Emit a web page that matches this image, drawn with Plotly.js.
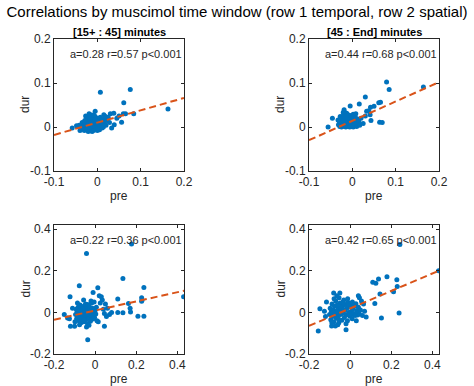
<!DOCTYPE html>
<html><head><meta charset="utf-8">
<script src="https://cdn.plot.ly/plotly-3.0.1.min.js"></script>
<style>html,body{margin:0;padding:0;background:#fff}#chart{width:474px;height:386px}</style>
</head><body><div id="chart"></div>
<script>
// ---- data ----
const figTitle = 'Correlations by muscimol time window (row 1 temporal, row 2 spatial)';
const panelTitles = ['[15+ : 45] minutes', '[45 : End] minutes', '', ''];
const statLabels = ['a=0.28 r=0.57 p<0.001', 'a=0.44 r=0.68 p<0.001', 'a=0.22 r=0.36 p<0.001', 'a=0.42 r=0.65 p<0.001'];
const slopes = [0.28, 0.44, 0.22, 0.42];
const intercepts = [0.010, 0.014, 0.009, 0.019];
const xLabel = 'pre';
const yLabel = 'dur';
const topTickVals = [-0.1, 0, 0.1, 0.2];
const topTickText = ['-0.1', '0', '0.1', '0.2'];
const botTickVals = [-0.2, 0, 0.2, 0.4];
const botTickText = ['-0.2', '0', '0.2', '0.4'];
const topRange = [-0.1, 0.2];
const botXRange = [-0.2, 0.432];
const botYRange = [-0.2, 0.42];

const pre1 = [-0.030,-0.028,-0.026,-0.025,-0.024,-0.022,-0.021,-0.020,-0.019,-0.018,-0.017,-0.016,-0.015,-0.014,-0.013,-0.012,-0.011,-0.010,-0.009,-0.008,-0.007,-0.006,-0.005,-0.004,-0.003,-0.002,-0.001,0.000,0.001,0.002,0.003,0.004,0.005,0.006,0.008,0.010,0.012,0.014,0.016,0.018,-0.033,-0.036,-0.027,-0.019,-0.010,-0.014,-0.023,-0.006,0.000,0.007,-0.017,-0.008,-0.003,-0.020,-0.029,-0.012,0.011,0.020,0.022,-0.035,
  0.007,0.076,0.061,0.163,0.030,0.038,0.065,0.084,0.056,0.039,-0.005,-0.058,-0.048,-0.042,0.025,0.045,0.028,0.050,0.033,-0.040,0.015,0.060,0.019];
const dur1 = [-0.008,0.002,0.010,-0.004,0.018,0.005,-0.010,0.012,0.000,0.022,0.007,-0.006,0.015,0.003,0.027,-0.002,0.009,0.019,-0.008,0.005,0.013,0.001,0.024,0.008,-0.004,0.016,0.004,0.011,-0.001,0.020,0.007,0.014,-0.006,0.003,0.010,0.017,0.006,0.000,0.012,0.021,0.004,-0.002,0.025,0.030,0.002,0.012,-0.001,0.017,-0.008,0.022,0.020,0.027,0.009,0.006,0.015,-0.010,-0.002,0.004,0.015,0.010,
  0.079,0.085,0.055,0.041,0.030,0.031,0.030,0.030,0.011,0.005,0.036,-0.002,0.003,0.004,0.022,0.020,0.010,0.025,-0.002,-0.008,0.028,0.030,0.024];

const pre2 = [-0.032,-0.030,-0.029,-0.027,-0.026,-0.025,-0.024,-0.023,-0.022,-0.021,-0.020,-0.019,-0.018,-0.017,-0.016,-0.015,-0.014,-0.013,-0.012,-0.011,-0.010,-0.009,-0.008,-0.007,-0.006,-0.005,-0.004,-0.003,-0.002,-0.001,0.000,0.001,0.002,0.003,0.004,0.005,0.007,0.009,0.011,0.013,-0.028,-0.021,-0.015,-0.010,-0.005,0.000,-0.018,-0.024,0.006,0.015,-0.012,-0.027,-0.008,-0.002,0.010,-0.033,-0.019,0.002,0.017,-0.006,
  0.079,0.085,0.164,0.030,0.061,0.065,0.050,0.042,0.038,0.016,-0.005,-0.019,-0.046,-0.056,0.043,0.063,0.069,0.041,0.030,0.020,0.025,0.033,0.008];
const dur2 = [0.005,0.012,0.001,0.018,0.007,0.000,0.022,0.010,0.003,0.015,0.027,0.006,0.001,0.013,0.020,0.004,0.009,0.031,0.002,0.016,0.007,0.024,0.001,0.011,0.018,0.004,0.009,0.026,0.002,0.014,0.006,0.020,0.000,0.010,0.016,0.003,0.012,0.005,0.019,0.008,0.024,0.033,0.000,0.028,0.013,0.001,0.010,0.015,0.024,0.013,0.020,0.003,0.006,0.021,0.001,0.016,0.035,0.029,0.004,0.000,
  0.102,0.085,0.091,0.068,0.055,0.056,0.047,0.045,0.037,0.052,0.048,0.039,0.020,0.000,0.015,0.011,0.010,0.028,0.025,0.020,0.008,0.036,0.030];

const pre3 = [-0.095,-0.092,-0.090,-0.088,-0.085,-0.083,-0.081,-0.079,-0.077,-0.075,-0.073,-0.071,-0.069,-0.067,-0.065,-0.063,-0.061,-0.059,-0.057,-0.055,-0.053,-0.051,-0.049,-0.047,-0.045,-0.043,-0.041,-0.039,-0.037,-0.035,-0.033,-0.031,-0.029,-0.027,-0.025,-0.023,-0.021,-0.019,-0.017,-0.015,-0.013,-0.011,-0.009,-0.007,-0.005,-0.003,0.000,0.003,0.006,0.009,-0.068,-0.062,-0.058,-0.052,-0.048,-0.044,-0.072,-0.066,-0.060,-0.054,-0.046,-0.040,-0.036,-0.086,-0.098,-0.030,-0.056,-0.076,-0.020,-0.042,
  -0.042,0.177,0.135,-0.077,0.013,0.237,0.430,-0.122,0.110,0.226,0.228,0.226,0.162,0.110,0.135,0.170,0.172,0.208,0.237,-0.036,0.045,-0.150,-0.120,-0.100,-0.134,0.020,-0.010,0.030,0.050,0.060,0.040,0.070,0.055,0.025,0.035,0.015,-0.110,-0.125,0.080,0.045];
const dur3 = [-0.010,0.015,-0.030,0.002,-0.018,0.025,-0.005,-0.040,0.010,-0.022,0.035,-0.002,-0.050,0.018,-0.012,0.005,-0.030,0.028,-0.008,-0.045,0.012,-0.020,0.000,0.040,-0.035,0.008,-0.015,0.022,-0.055,-0.004,0.015,-0.028,0.030,-0.010,0.003,-0.042,0.012,-0.020,0.045,-0.005,0.020,-0.032,0.008,-0.015,0.050,-0.025,0.010,-0.008,0.025,-0.040,0.000,-0.005,0.008,-0.012,0.020,-0.002,0.012,-0.025,0.015,-0.035,0.004,-0.008,0.038,0.045,-0.045,-0.062,0.060,-0.060,0.055,-0.070,
  0.283,0.329,0.163,0.128,0.118,0.120,0.075,0.075,0.064,0.070,0.060,0.053,0.043,0.000,-0.002,0.020,0.002,-0.018,-0.018,-0.131,-0.067,-0.010,-0.067,-0.067,-0.027,0.080,0.095,0.075,0.040,0.020,0.015,-0.010,-0.020,0.045,0.060,-0.045,0.020,-0.030,0.000,-0.005];

const pre4 = [-0.100,-0.097,-0.094,-0.091,-0.088,-0.085,-0.082,-0.079,-0.076,-0.073,-0.070,-0.067,-0.064,-0.061,-0.058,-0.055,-0.052,-0.049,-0.046,-0.043,-0.040,-0.037,-0.034,-0.031,-0.028,-0.025,-0.022,-0.019,-0.016,-0.013,-0.010,-0.007,-0.004,-0.001,0.002,0.005,0.008,0.011,0.014,0.017,0.020,0.024,0.028,0.032,0.036,0.040,0.045,0.050,-0.068,-0.060,-0.054,-0.047,-0.041,-0.035,-0.078,-0.089,-0.072,-0.030,-0.020,-0.012,0.000,-0.063,-0.083,-0.057,
  0.242,0.430,0.179,0.138,0.110,0.125,0.227,0.229,0.211,0.145,0.238,0.152,0.120,-0.155,-0.147,-0.080,-0.050,-0.065,-0.020,0.040,0.045,0.078,0.060,0.065,0.055,-0.120,-0.115,-0.125,0.030,0.010,-0.090,0.070];
const dur4 = [-0.010,0.020,-0.035,0.005,0.040,-0.020,0.012,-0.045,0.030,-0.005,0.055,-0.028,0.008,-0.015,0.022,-0.050,0.002,0.045,-0.010,0.015,-0.038,0.030,-0.002,0.060,-0.025,0.010,0.038,-0.012,0.020,-0.040,0.048,0.000,0.028,-0.018,0.035,0.005,-0.010,0.050,0.018,-0.005,0.030,-0.015,0.042,0.008,-0.012,0.025,-0.008,0.012,0.000,-0.060,0.070,0.025,-0.005,0.050,0.065,-0.050,-0.065,0.010,-0.055,0.065,-0.010,0.035,-0.002,-0.030,
  0.326,0.200,0.171,0.160,0.145,0.140,0.157,0.125,0.099,0.088,-0.003,-0.027,0.043,-0.090,0.018,0.093,0.093,0.080,-0.083,0.080,0.070,-0.022,-0.015,0.040,0.055,-0.020,0.050,0.005,-0.040,-0.030,-0.065,0.005];

// ---- build ----
const preSets = [pre1, pre2, pre3, pre4];
const durSets = [dur1, dur2, dur3, dur4];
const xRanges = [topRange, topRange, botXRange, botXRange];
const yRanges = [topRange, topRange, botYRange, botYRange];
const FONT = 'Liberation Sans, Arial, Helvetica, sans-serif';
const TXT = '#262626';
const BLUE = '#0072BD';
const ORANGE = '#D95319';

const W = 474, H = 386;
// pixel boxes of the 4 axes: [left, right, top, bottom]
const boxes = [[54, 184, 39, 171], [309, 439, 39, 171], [54, 184, 225, 354], [309, 439, 225, 354]];

const traces = [];
const layout = {
  width: W, height: H,
  margin: {l: 0, r: 0, t: 0, b: 0},
  paper_bgcolor: '#fff', plot_bgcolor: '#fff',
  showlegend: false,
  title: {text: figTitle, font: {family: FONT, size: 15, color: '#000'}, x: 0.5, xanchor: 'center', y: 1 - 12 / H, yanchor: 'middle'},
  annotations: []
};

for (let i = 0; i < 4; i++) {
  const sfx = i === 0 ? '' : String(i + 1);
  const xa = 'x' + sfx, ya = 'y' + sfx;
  traces.push({type: 'scatter', mode: 'markers', x: preSets[i], y: durSets[i], xaxis: xa, yaxis: ya,
    marker: {color: BLUE, size: 5, line: {width: 0}}, hoverinfo: 'skip'});
  const xr = xRanges[i];
  traces.push({type: 'scatter', mode: 'lines', x: xr, y: xr.map(v => slopes[i] * v + intercepts[i]), xaxis: xa, yaxis: ya,
    line: {color: ORANGE, width: 2, dash: '7px,4px'}, hoverinfo: 'skip'});
  const b = boxes[i];
  const top = i < 2;
  const axCommon = {showline: true, mirror: 'ticks', ticks: 'inside', ticklen: 3, tickwidth: 1,
    tickcolor: TXT, linecolor: TXT, linewidth: 1, showgrid: false, zeroline: false,
    tickfont: {family: FONT, size: 12, color: TXT}, fixedrange: true};
  layout['xaxis' + sfx] = Object.assign({}, axCommon, {
    domain: [b[0] / W, b[1] / W], anchor: ya, range: xr,
    tickmode: 'array', tickvals: top ? topTickVals : botTickVals, ticktext: top ? topTickText : botTickText
  });
  layout['yaxis' + sfx] = Object.assign({}, axCommon, {
    domain: [1 - b[3] / H, 1 - b[2] / H], anchor: xa, range: yRanges[i],
    tickmode: 'array', tickvals: top ? topTickVals : botTickVals, ticktext: top ? topTickText : botTickText
  });
  // axis labels
  layout.annotations.push({text: xLabel, xref: 'paper', yref: 'paper',
    x: (b[0] + b[1]) / 2 / W, y: 1 - (b[3] + 25) / H, xanchor: 'center', yanchor: 'middle', showarrow: false,
    font: {family: FONT, size: 12, color: TXT}});
  layout.annotations.push({text: yLabel, xref: 'paper', yref: 'paper', textangle: -90,
    x: (b[0] - 29) / W, y: 1 - (b[2] + b[3]) / 2 / H, xanchor: 'center', yanchor: 'middle', showarrow: false,
    font: {family: FONT, size: 12, color: TXT}});
  if (panelTitles[i]) {
    layout.annotations.push({text: '<b>' + panelTitles[i] + '</b>', xref: 'paper', yref: 'paper',
      x: (b[0] + b[1]) / 2 / W, y: 1 - (b[2] - 7) / H, xanchor: 'center', yanchor: 'middle', showarrow: false,
      font: {family: FONT, size: 11, color: '#000'}});
  }
  layout.annotations.push({text: statLabels[i], xref: 'paper', yref: 'paper',
    x: (b[0] + 14) / W, y: 1 - (b[2] + 15) / H, xanchor: 'left', yanchor: 'middle', showarrow: false,
    font: {family: FONT, size: 11, color: TXT}});
}

Plotly.newPlot('chart', traces, layout, {staticPlot: true, displayModeBar: false});
</script>
</body></html>
